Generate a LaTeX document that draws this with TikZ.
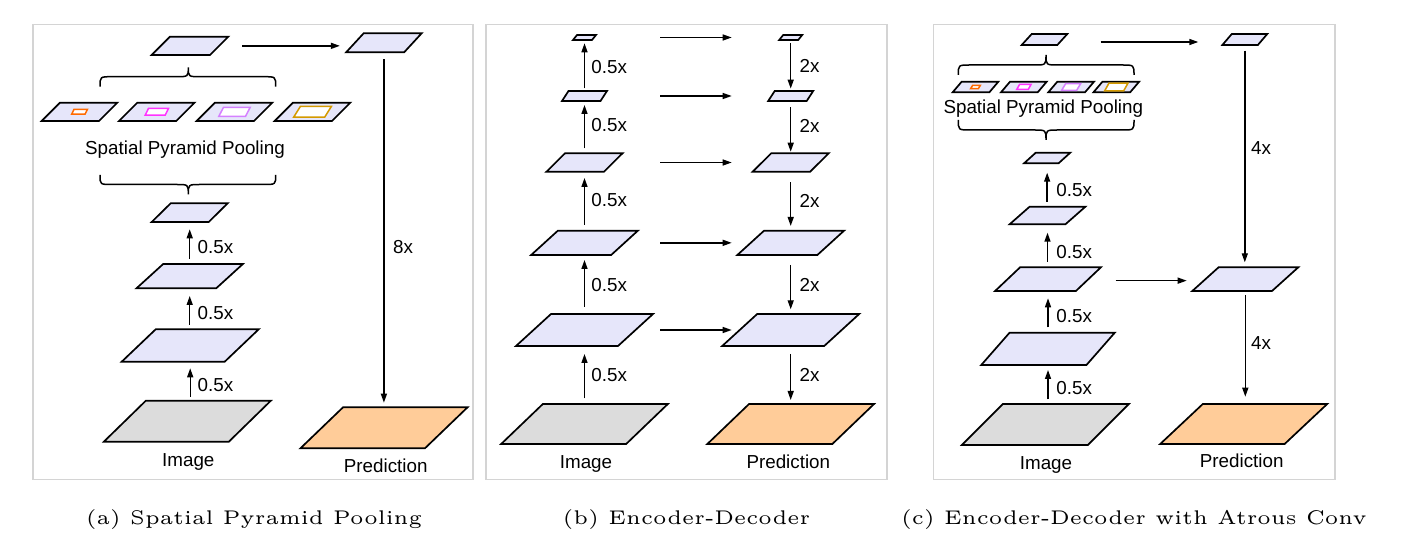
\documentclass[tikz,border=0pt]{standalone}
\usepackage{fontspec}
\newfontfamily\arialf{Liberation Sans}
\usetikzlibrary{arrows.meta,calc}
\definecolor{lav}{HTML}{E6E6FA}
\definecolor{imgc}{HTML}{DCDCDC}
\definecolor{predc}{HTML}{FFCC99}
\definecolor{frm}{HTML}{D4D4D4}
\definecolor{cA}{HTML}{FF6A00}
\definecolor{cB}{HTML}{FF33FF}
\definecolor{cC}{HTML}{D580FF}
\definecolor{cD}{HTML}{D49A00}
% layer: [style]{name}{cx}{cy}{w}{h}{skew}
\newcommand\lyr[7][]{%
  \node[inner sep=0pt, outer sep=0pt, minimum width={(#5+#7)*0.5pt}, minimum height={#6*0.5pt}] (#2) at (#3,#4) {};
  \draw[layline,#1] ([xshift={#7*0.5pt}]#2.north west) -- (#2.north east) -- ([xshift={-#7*0.5pt}]#2.south east) -- (#2.south west) -- cycle;}
\newcommand\uparr[4]{\draw[arr, shorten <=#3, shorten >=#4] (#2.south |- #1.north) -- (#2.south);}
\newcommand\dnarr[4]{\draw[arr, shorten <=#3, shorten >=#4] (#1.south) -- (#1.south |- #2.north);}
% brace: x1 x2 xtip yend ymid ytip
\newcommand\brc[6]{\draw[bracel] (#1,#4) .. controls (#1,#5) .. ({#1+12},#5) -- ({#3-12},#5) .. controls (#3,#5) .. (#3,#6) .. controls (#3,#5) .. ({#3+12},#5) -- ({#2-12},#5) .. controls (#2,#5) .. (#2,#4);}
\begin{document}
\begin{tikzpicture}[x=0.5pt,y=-0.5pt,
  layline/.style={draw=black, line width=0.85pt, fill=lav, line join=miter},
  inr/.style={fill=white, line width=0.75pt},
  arr/.style={-{Triangle[length=4.5pt,width=3pt]}, line width=0.7pt},
  bracel/.style={line width=0.75pt},
  frame/.style={draw=frm, line width=0.75pt},
  lbl/.style={font=\arialf\fontsize{9.4}{11}\selectfont, inner sep=0pt},
  captxt/.style={font=\fontfamily{lmr}\fontsize{5}{6}\selectfont, scale=1.98, inner sep=0pt, anchor=base}]
\useasboundingbox (0,0) rectangle (1402,533);

% ---------------- panel (a)
\draw[frame] (33,24.5) rectangle (473,479.3);
\lyr{aT}{190}{45.85}{58.3}{18.3}{18.3}
\lyr{aPT}{383.9}{42.8}{58}{19}{17.5}
\lyr{aS1}{79.5}{111.85}{57.3}{18.3}{18.3}
\lyr{aS2}{156.8}{111.85}{57.3}{18.3}{18.3}
\lyr{aS3}{234.5}{111.85}{57.3}{18.3}{18.3}
\lyr{aS4}{312.5}{111.85}{57.3}{18.3}{18.3}
\lyr[inr,draw=cA]{aI1}{79.5}{111.85}{13.4}{4.7}{2.3}
\lyr[inr,draw=cB]{aI2}{156.8}{111.85}{20}{6.7}{3.3}
\lyr[inr,draw=cC]{aI3}{234.5}{111.85}{26.7}{9}{4.7}
\lyr[inr,draw=cD]{aI4}{312.5}{111.85}{31}{10.7}{6.7}
\brc{100}{275.7}{188.3}{86.7}{76.7}{67.3}
\brc{100}{275.7}{188.3}{175}{184.5}{194.3}
\node[lbl, anchor=base] (aspp) at (185,155) {Spatial Pyramid Pooling};
\lyr{aL3}{189.7}{212.65}{57}{18.7}{19}
\lyr{aL2}{189.7}{276.15}{79.7}{24.3}{26.7}
\lyr{aL1}{190.2}{345.5}{103}{32.4}{34}
\lyr[fill=imgc]{aImg}{187.35}{421.2}{125}{41}{42}
\lyr[fill=predc]{aPred}{384}{427.8}{124.5}{41}{42.6}
\uparr{aImg}{aL1}{2pt}{3.3pt}
\uparr{aL1}{aL2}{2.15pt}{3.85pt}
\uparr{aL2}{aL3}{2.5pt}{3.65pt}
\draw[arr, shorten <=26pt, shorten >=22pt] (aT.center) -- (aT.center -| aPT.center);
\dnarr{aPT}{aPred}{3.5pt}{2.3pt}
\node[lbl, anchor=west] (aX1) at (197.3,385) {0.5x};
\node[lbl, anchor=west] (aX2) at (197.3,313.3) {0.5x};
\node[lbl, anchor=west] (aX3) at (197.3,247.3) {0.5x};
\node[lbl, anchor=west] (aX8) at (392.7,247.3) {8x};
\node[lbl, anchor=base] (aimgt) at (188.3,466.7) {Image};
\node[lbl, anchor=base] (apredt) at (385.7,472.7) {Prediction};

% ---------------- panel (b)
\draw[frame] (486,24.5) rectangle (887,479.3);
\lyr{b5}{584.5}{37.5}{19}{5}{4}
\lyr{b4}{584.5}{96}{38.5}{10}{6.5}
\lyr{b3}{584.5}{162.5}{57.5}{18.4}{18.5}
\lyr{b2}{584.5}{242.85}{80}{24.3}{26.7}
\lyr{b1}{584.5}{330}{102}{32}{35}
\lyr[fill=imgc]{bImg}{584.5}{424}{125}{40}{41.7}
\lyr{c5}{790.7}{37.5}{19}{5}{4}
\lyr{c4}{790.7}{96}{38.5}{10}{6.5}
\lyr{c3}{790.7}{162.5}{57.5}{18.4}{18.5}
\lyr{c2}{790.7}{242.85}{80}{24.3}{26.7}
\lyr{c1}{790.7}{330}{102}{32}{35}
\lyr[fill=predc]{cPred}{790.7}{424}{125}{40}{41.7}
\uparr{bImg}{b1}{2.85pt}{4pt}
\uparr{b1}{b2}{3.65pt}{2.5pt}
\uparr{b2}{b3}{2.85pt}{3.15pt}
\uparr{b3}{b4}{2.5pt}{2pt}
\uparr{b4}{b5}{1.35pt}{1.65pt}
\dnarr{c5}{c4}{1.65pt}{1.2pt}
\dnarr{c4}{c3}{3.15pt}{0.8pt}
\dnarr{c3}{c2}{5.3pt}{2.35pt}
\dnarr{c2}{c1}{5pt}{2.35pt}
\dnarr{c1}{cPred}{4pt}{2pt}
\foreach \n in {5,4,3,2,1}{
  \draw[arr, shorten <=37.75pt, shorten >=29.5pt] (b\n.center) -- (c\n.center);}
\node[lbl, anchor=west] (bX5) at (591,66.7) {0.5x};
\node[lbl, anchor=west] (bX4) at (591,125) {0.5x};
\node[lbl, anchor=west] (bX3) at (591,200) {0.5x};
\node[lbl, anchor=west] (bX2) at (591,285) {0.5x};
\node[lbl, anchor=west] (bX1) at (591,375) {0.5x};
\node[lbl, anchor=west] (cX5) at (799.3,65.7) {2x};
\node[lbl, anchor=west] (cX4) at (799.3,126) {2x};
\node[lbl, anchor=west] (cX3) at (799.3,201) {2x};
\node[lbl, anchor=west] (cX2) at (799.3,285) {2x};
\node[lbl, anchor=west] (cX1) at (799.3,375) {2x};
\node[lbl, anchor=base] (bimgt) at (586,468.3) {Image};
\node[lbl, anchor=base] (bpredt) at (788.3,468.3) {Prediction};

% ---------------- panel (c)
\draw[frame] (933.3,24.5) rectangle (1335,479.3);
\lyr{dT}{1044.5}{39.5}{35.6}{11}{10}
\lyr{eT}{1244.8}{39.5}{35.5}{11}{9.4}
\lyr{dS1}{975.5}{87}{36.7}{10.6}{9}
\lyr{dS2}{1023.85}{87}{36.7}{10.6}{9}
\lyr{dS3}{1071.15}{87}{36.7}{10.6}{9}
\lyr{dS4}{1116.3}{87}{36.7}{10.6}{9}
\lyr[inr,draw=cA]{dI1}{975.5}{87}{7.7}{3.3}{2}
\lyr[inr,draw=cB]{dI2}{1023.85}{87}{11.5}{5}{2.8}
\lyr[inr,draw=cC]{dI3}{1071.15}{87}{15}{6.7}{4}
\lyr[inr,draw=cD]{dI4}{1116.3}{87}{19}{7.7}{4.3}
\brc{958.3}{1134}{1046}{75}{65}{55}
\brc{958.3}{1134}{1046}{120}{130}{140}
\node[lbl, anchor=base] (dspp) at (1043.3,114) {Spatial Pyramid Pooling};
\lyr{d3}{1047.15}{158}{34.5}{10.6}{11.7}
\lyr{d2}{1047.5}{215.5}{55.8}{17.6}{20}
\lyr{d1}{1048}{279.15}{80.8}{23.7}{25}
\lyr{d0}{1048}{348.85}{105.2}{32.3}{28.3}
\lyr[fill=imgc]{dImg}{1045.35}{424.5}{126}{41}{41}
\lyr{e2}{1245.3}{279.15}{79.7}{23.7}{26.3}
\lyr[fill=predc]{ePred}{1243.7}{424}{124.4}{40}{42.6}
\uparr{dImg}{d0}{2.35pt}{2.5pt}
\uparr{d0}{d1}{2.7pt}{3.65pt}
\uparr{d1}{d2}{2.8pt}{4.2pt}
\uparr{d2}{d3}{2.5pt}{4.7pt}
\draw[arr, shorten <=28.1pt, shorten >=23.25pt] ([yshift=-1.25pt]dT.center) -- ([yshift=-1.25pt]eT.center);
\draw[arr, shorten <=33.85pt, shorten >=29.3pt] ([yshift=-0.75pt]d1.center) -- ([yshift=-0.75pt]e2.center);
\dnarr{eT}{e2}{2.85pt}{2.5pt}
\dnarr{e2}{ePred}{2pt}{3.65pt}
\node[lbl, anchor=west] (dX0) at (1056,388.3) {0.5x};
\node[lbl, anchor=west] (dX1) at (1056,316) {0.5x};
\node[lbl, anchor=west] (dX2) at (1056,251.7) {0.5x};
\node[lbl, anchor=west] (dX3) at (1056,190) {0.5x};
\node[lbl, anchor=west] (eX1) at (1250.7,148.3) {4x};
\node[lbl, anchor=west] (eX2) at (1250.7,342.7) {4x};
\node[lbl, anchor=base] (dimgt) at (1046,469.3) {Image};
\node[lbl, anchor=base] (epredt) at (1241.7,467.7) {Prediction};

% ---------------- captions
\node[captxt] (capa) at (254,524.3) {(a) Spatial Pyramid Pooling};
\node[captxt] (capb) at (686.5,524.3) {(b) Encoder-Decoder};
\node[captxt] (capc) at (1134,524.3) {(c) Encoder-Decoder with Atrous Conv};
\end{tikzpicture}
\end{document}
